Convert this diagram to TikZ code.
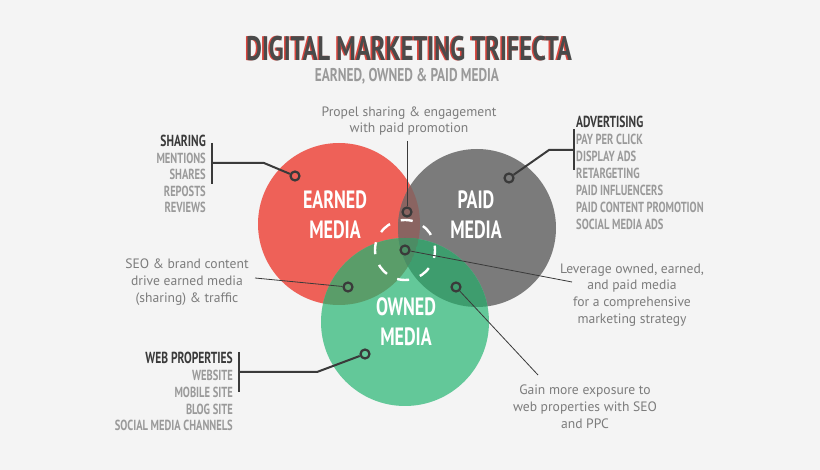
\documentclass[tikz,border=0pt]{standalone}
\usepackage{fontspec}
\setmainfont{PT Sans}
\newfontfamily\condfont[FakeStretch=0.72]{PT Sans}

\definecolor{fond}{HTML}{F4F4F4}
\definecolor{earned}{HTML}{EE6158}
\definecolor{paid}{HTML}{7B7B7B}
\definecolor{owned}{HTML}{63C899}
\definecolor{earnedpaid}{HTML}{8A6461}
\definecolor{earnedowned}{HTML}{5A9D69}
\definecolor{paidowned}{HTML}{3E9D6E}
\definecolor{allthree}{HTML}{4C8C64}
\definecolor{dark}{HTML}{3A3A3A}
\definecolor{titledark}{HTML}{4A4A4A}
\definecolor{txtgray}{HTML}{7C7C7C}
\definecolor{listgray}{HTML}{9A9A9A}
\definecolor{titlered}{HTML}{D9463E}

\newcommand{\shadowtext}[1]{\makebox[0pt][l]{\kern-1.6pt\raisebox{0.8pt}{\color{titlered}#1}}#1}

\tikzset{
  hole/.style={circle, draw=dark, line width=2.2pt, inner sep=0pt, minimum size=9pt},
  bracket/.style={draw=dark, line width=2pt},
  thinline/.style={draw=dark, line width=0.8pt},
  body/.style={text=txtgray, font=\fontsize{13.6}{16.8}\selectfont, align=center, inner sep=0pt},
  item/.style={text=listgray, font=\condfont\bfseries\fontsize{14.6}{15}\selectfont, inner sep=0pt},
  head/.style={text=dark, font=\condfont\bfseries\fontsize{16}{16}\selectfont, inner sep=0pt},
  circlabel/.style={text=white, font=\condfont\bfseries\fontsize{25}{30}\selectfont, align=center, inner sep=0pt}
}

\begin{document}
\begin{tikzpicture}[x=1pt,y=-1pt]
 \fill[fond] (0,0) rectangle (820,470);
 \useasboundingbox (0,0) rectangle (820,470);

 % title
 \node[text=titledark, font=\condfont\bfseries\fontsize{34}{34}\selectfont, inner sep=0pt, anchor=base] (title) at (409,61) {\shadowtext{DIGITAL MARKETING TRIFECTA}};
 \node[text=listgray, font=\condfont\bfseries\fontsize{18.5}{18.5}\selectfont, inner sep=0pt, anchor=base] (subtitle) at (407,81.5) {EARNED, OWNED \& PAID MEDIA};

 % the three circles
 \coordinate (cE) at (339,224);
 \coordinate (cP) at (477,228);
 \coordinate (cO) at (405,322);
 \fill[earned] (cE) circle (81);
 \fill[paid] (cP) circle (79);
 \fill[owned] (cO) circle (84);
 \begin{scope}
  \clip (cE) circle (81);
  \fill[earnedpaid] (cP) circle (79);
  \fill[earnedowned] (cO) circle (84);
  \clip (cP) circle (79);
  \fill[allthree] (cO) circle (84);
 \end{scope}
 \begin{scope}
  \clip (cP) circle (79);
  \clip (cO) circle (84);
  \fill[paidowned] (cE) ++(300,0) circle (400);
 \end{scope}
 \begin{scope}
  \clip (cP) circle (79);
  \clip (cO) circle (84);
  \clip (cE) circle (81);
  \fill[allthree] (cE) circle (81);
 \end{scope}

 \draw[white, line width=2.4pt, dash pattern=on 12pt off 11.5pt, dash phase=4pt] (405,250) circle (30);

 \node[circlabel] (earnedlbl) at (335,215) {EARNED\\MEDIA};
 \node[circlabel] (paidlbl) at (476,215) {PAID\\MEDIA};
 \node[circlabel] (ownedlbl) at (406,322) {OWNED\\MEDIA};

 % markers
 \node[hole] (mE) at (295,176) {};
 \node[hole] (mP) at (509,178) {};
 \node[hole] (mEP) at (407,212) {};
 \node[hole] (mC) at (405,250) {};
 \node[hole] (mEO) at (348,287) {};
 \node[hole] (mPO) at (456,287) {};
 \node[hole] (mO) at (365,354) {};

 % sharing
 \node[head, anchor=base east] (sharing) at (206,147) {SHARING};
 \foreach \t [count=\i] in {MENTIONS, SHARES, REPOSTS, REVIEWS}
  \node[item, anchor=base east] (sh\i) at (206,147+16.5*\i) {\t};
 \coordinate (shtop) at (212,143);
 \coordinate (shbot) at (212,184);
 \coordinate (shmid) at (212,163);
 \coordinate (shknee) at (264,163);
 \draw[bracket] (shtop) -- (shbot);
 \draw[bracket] (shmid) -- (shknee) -- (mE);

 % advertising
 \node[head, anchor=base west] (advert) at (576,128) {ADVERTISING};
 \foreach \t [count=\i] in {PAY PER CLICK, DISPLAY ADS, RETARGETING, PAID INFLUENCERS, PAID CONTENT PROMOTION, SOCIAL MEDIA ADS}
  \node[item, anchor=base west] (ad\i) at (576,128+17*\i) {\t};
 \coordinate (adtop) at (574,129);
 \coordinate (adbot) at (574,170);
 \coordinate (admid) at (574,150);
 \coordinate (adknee) at (549,150);
 \draw[bracket] (adtop) -- (adbot);
 \draw[bracket] (admid) -- (adknee) -- (mP);

 % web properties
 \node[head, anchor=base east] (webprop) at (233,364) {WEB PROPERTIES};
 \foreach \t [count=\i] in {WEBSITE, MOBILE SITE, BLOG SITE, SOCIAL MEDIA CHANNELS}
  \node[item, anchor=base east] (wp\i) at (233,364+16.7*\i) {\t};
 \coordinate (wptop) at (239,352);
 \coordinate (wpbot) at (239,392);
 \coordinate (wpmid) at (239,372);
 \coordinate (wpknee) at (317,372);
 \draw[bracket] (wptop) -- (wpbot);
 \draw[bracket] (wpmid) -- (wpknee) -- (mO);

 % notes
 \node[body] (propel) at (409,121) {Propel sharing \& engagement\\with paid promotion};
 \coordinate (propelend) at (407,141);
 \draw[thinline] (propelend) -- (mEP);

 \node[body] (seo) at (187,282) {SEO \& brand content\\drive earned media\\(sharing) \& traffic};
 \coordinate (seoend) at (255,278);
 \draw[thinline] (seoend) -- (mEO);

 \node[body] (leverage) at (632,295) {Leverage owned, earned,\\and paid media\\for a comprehensive\\marketing strategy};
 \coordinate (levend) at (572,282);
 \draw[thinline] (mC) -- (levend);

 \node[body] (gain) at (585,407) {Gain more exposure to\\web properties with SEO\\and PPC};
 \coordinate (gainend) at (538,375);
 \draw[thinline] (mPO) -- (gainend);
\end{tikzpicture}
\end{document}
